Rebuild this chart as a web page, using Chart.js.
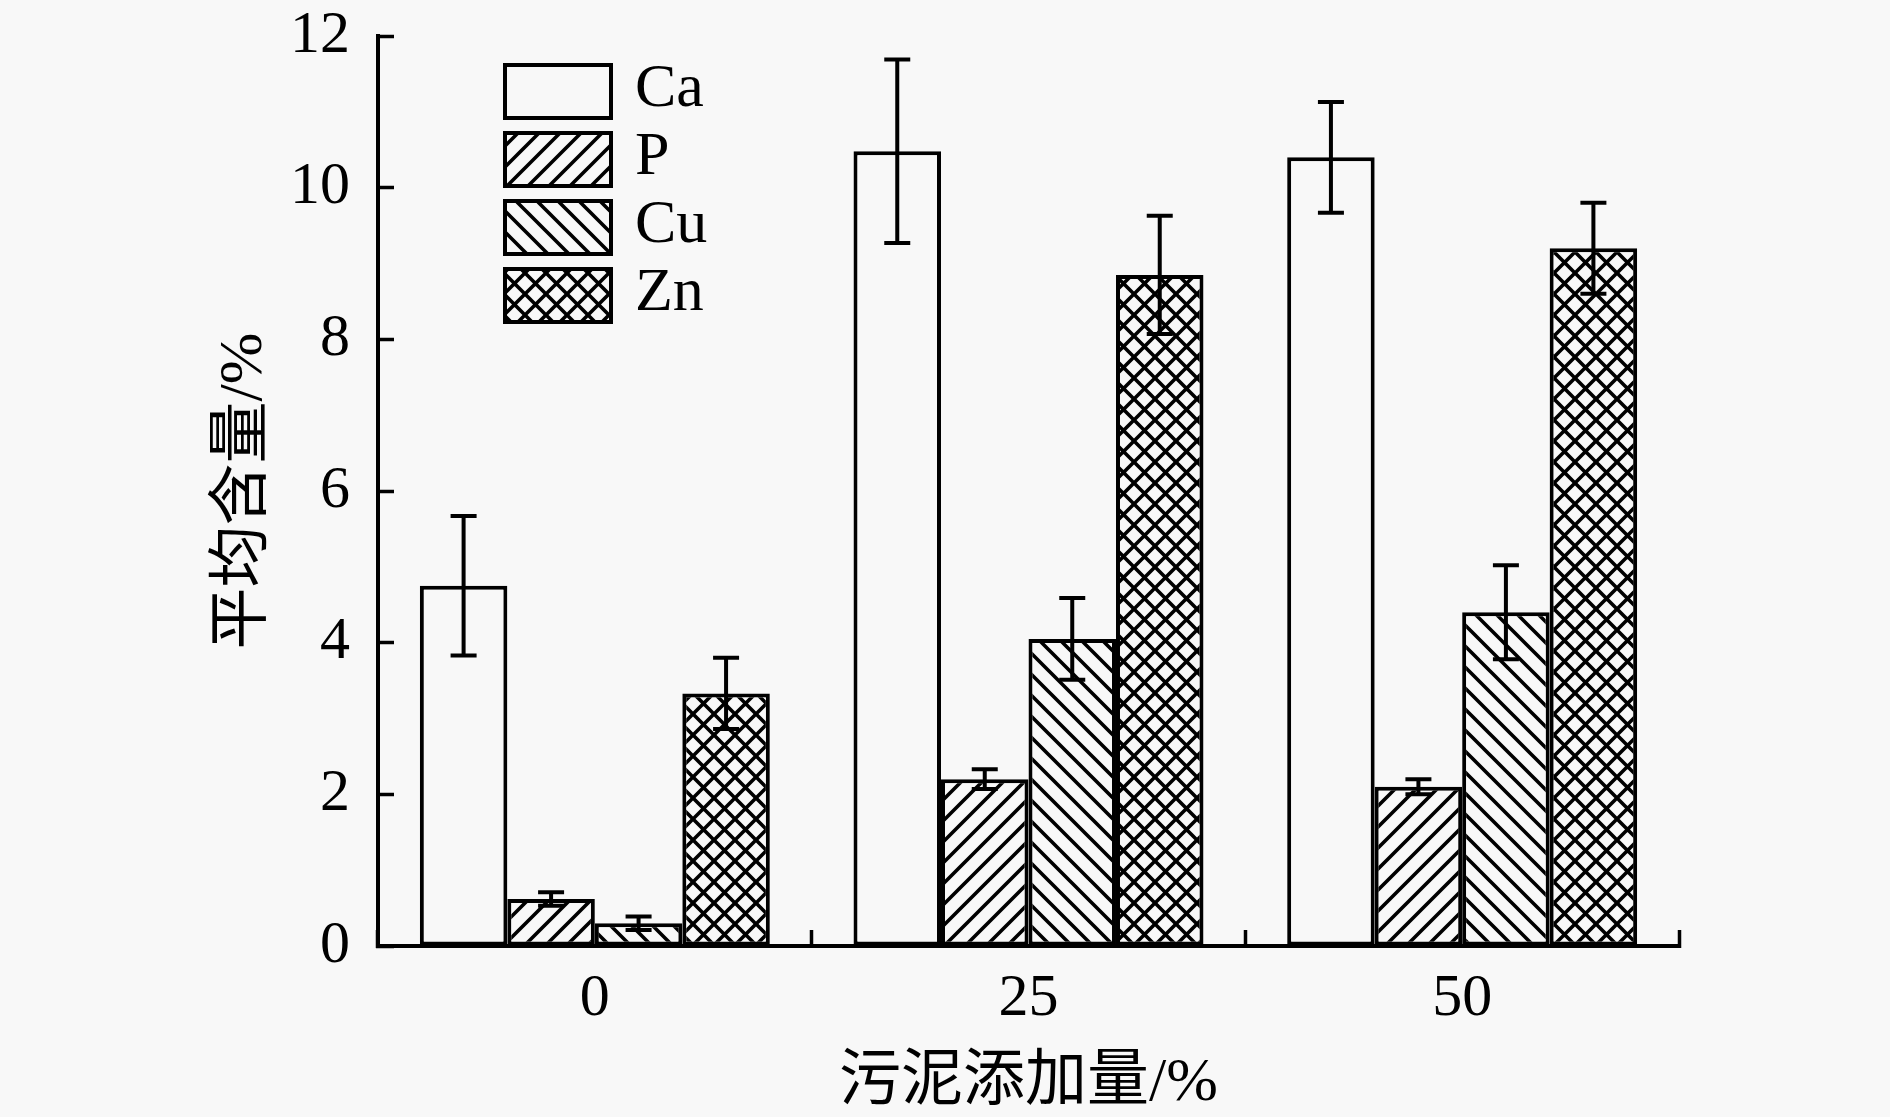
<!DOCTYPE html>
<html>
<head>
<meta charset="utf-8">
<script src="https://cdn.jsdelivr.net/npm/chart.js@4/dist/chart.umd.min.js"></script>
<style>
  body { margin: 0; background: #f8f8f8; }
  #wrap { width: 1890px; height: 1117px; }
</style>
</head>
<body>
<div id="wrap"><canvas id="canvas" width="1890" height="1117"></canvas></div>
<script>
// data
const categories = ['0', '25', '50']
const seriesNames = ['Ca', 'P', 'Cu', 'Zn']
const caValues = [4.75, 10.48, 10.40]
const caErrors = [0.92, 1.21, 0.73]
const pValues = [0.62, 2.20, 2.10]
const pErrors = [0.09, 0.13, 0.10]
const cuValues = [0.30, 4.05, 4.40]
const cuErrors = [0.09, 0.54, 0.62]
const znValues = [3.33, 8.85, 9.20]
const znErrors = [0.47, 0.78, 0.60]
const yTicks = [0, 2, 4, 6, 8, 10, 12]

const bg = '#f8f8f8'
const serif = "'Liberation Serif', 'Times New Roman', 'Noto Sans CJK SC', serif"

// hatch fills
function makeHatch(kind) {
  const p = 21
  const c = document.createElement('canvas')
  c.width = p
  c.height = p
  const g = c.getContext('2d')
  g.fillStyle = bg
  g.fillRect(0, 0, p, p)
  g.strokeStyle = '#000'
  g.lineWidth = 3.6
  g.beginPath()
  if (kind === 'fwd' || kind === 'cross') {
    ;[0, p, 2 * p].forEach((k) => {
      g.moveTo(k + 3, -3)
      g.lineTo(k - p - 3, p + 3)
    })
  }
  if (kind === 'back' || kind === 'cross') {
    ;[-p, 0, p].forEach((k) => {
      g.moveTo(k - 3, -3)
      g.lineTo(k + p + 3, p + 3)
    })
  }
  g.stroke()
  return g.createPattern(c, 'repeat')
}

const fills = [bg, makeHatch('fwd'), makeHatch('back'), makeHatch('cross')]

const errorBars = {
  id: 'errorBars',
  afterDatasetsDraw(chart) {
    const ctx = chart.ctx
    const y = chart.scales.y
    ctx.save()
    ctx.strokeStyle = '#000'
    ctx.lineWidth = 4
    chart.data.datasets.forEach((ds, i) => {
      chart.getDatasetMeta(i).data.forEach((bar, j) => {
        const v = ds.data[j]
        const e = ds.errors[j]
        const yt = y.getPixelForValue(v + e)
        const yb = y.getPixelForValue(v - e)
        const x = bar.x
        ctx.beginPath()
        ctx.moveTo(x, yt)
        ctx.lineTo(x, yb)
        ctx.moveTo(x - 13, yt)
        ctx.lineTo(x + 13, yt)
        ctx.moveTo(x - 13, yb)
        ctx.lineTo(x + 13, yb)
        ctx.stroke()
      })
    })
    ctx.restore()
  },
}

const boxLegend = {
  id: 'boxLegend',
  afterDraw(chart) {
    const ctx = chart.ctx
    ctx.save()
    ctx.font = '62px ' + serif
    ctx.textBaseline = 'middle'
    chart.data.datasets.forEach((ds, i) => {
      const top = 65 + i * 68
      ctx.fillStyle = ds.backgroundColor
      ctx.fillRect(505, top, 106, 53)
      ctx.strokeStyle = '#000'
      ctx.lineWidth = 4
      ctx.strokeRect(505, top, 106, 53)
      ctx.fillStyle = '#000'
      ctx.fillText(ds.label, 635, top + 25)
    })
    ctx.restore()
  },
}

const paintBg = {
  id: 'paintBg',
  beforeDraw(chart) {
    const ctx = chart.ctx
    ctx.save()
    ctx.fillStyle = bg
    ctx.fillRect(0, 0, chart.width, chart.height)
    ctx.restore()
  },
}

const values = [caValues, pValues, cuValues, znValues]
const errors = [caErrors, pErrors, cuErrors, znErrors]

const datasets = seriesNames.map((name, i) => ({
  label: name,
  data: values[i],
  errors: errors[i],
  backgroundColor: fills[i],
  borderColor: '#000',
  borderWidth: 4,
  borderSkipped: false,
  categoryPercentage: 0.807,
  barPercentage: 1.0,
}))

const canvas = document.getElementById('canvas')
const chart = new Chart(canvas, {
  type: 'bar',
  data: { labels: categories, datasets: datasets },
  options: {
    responsive: false,
    animation: false,
    devicePixelRatio: 1,
    layout: { padding: { top: 0, right: 211, left: 0, bottom: 0 } },
    plugins: { legend: { display: false }, tooltip: { enabled: false } },
    scales: {
      x: {
        z: 1,
        border: { color: '#000', width: 4 },
        grid: {
          offset: true,
          drawOnChartArea: false,
          tickLength: -16,
          tickWidth: 3.5,
          tickColor: '#000',
        },
        ticks: { color: '#000', font: { family: serif, size: 60 }, padding: 33 },
        title: {
          display: true,
          text: '污泥添加量/%',
          color: '#000',
          font: { family: serif, size: 62 },
          padding: { top: 0, bottom: -4 },
        },
        afterFit(s) {
          s.height = 171
        },
      },
      y: {
        z: 1,
        min: 0,
        max: 12,
        border: { color: '#000', width: 4 },
        grid: {
          drawOnChartArea: false,
          tickLength: -16,
          tickWidth: 3.5,
          tickColor: '#000',
        },
        afterBuildTicks(s) {
          s.ticks = yTicks.map((v) => ({ value: v }))
        },
        ticks: { color: '#000', font: { family: serif, size: 60, lineHeight: 1.0 }, padding: 44 },
        title: {
          display: true,
          text: '平均含量/%',
          color: '#000',
          font: { family: serif, size: 62 },
          padding: { top: 208, bottom: 0 },
        },
        afterFit(s) {
          s.width = 378
          s.paddingTop = 36
        },
      },
    },
  },
  plugins: [paintBg, errorBars, boxLegend],
})
</script>
</body>
</html>
